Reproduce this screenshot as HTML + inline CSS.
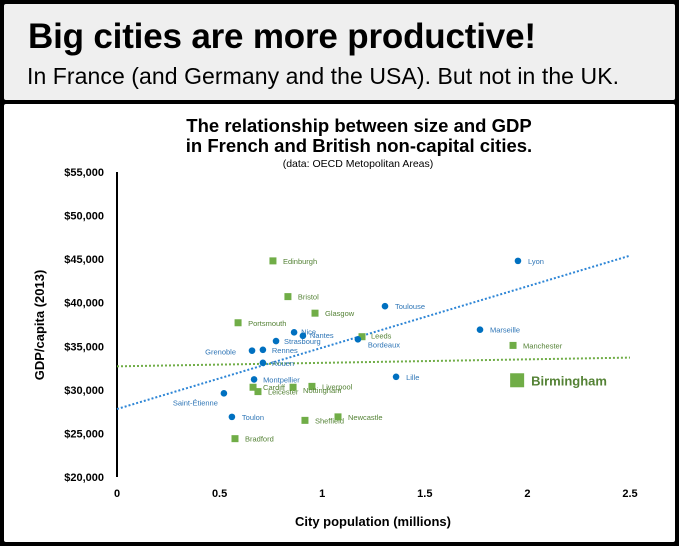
<!DOCTYPE html>
<html><head><meta charset="utf-8"><style>
html,body{margin:0;padding:0;background:#fff;}
body{width:679px;height:546px;overflow:hidden;font-family:"Liberation Sans",Arial,sans-serif;}
</style></head><body>
<svg id="chart" width="679" height="546" viewBox="0 0 679 546" xmlns="http://www.w3.org/2000/svg" font-family="Liberation Sans, Arial, sans-serif">
<rect x="0" y="0" width="679" height="546" fill="#000"/>
<rect x="4" y="4" width="671" height="96" rx="2" fill="#efefef"/>
<rect x="4" y="104" width="671" height="438" rx="2" fill="#fff"/>
<text x="28" y="48" font-size="35" font-weight="bold" fill="#000" textLength="508">Big cities are more productive!</text>
<text x="27" y="84" font-size="23" fill="#000" textLength="592">In France (and Germany and the USA). But not in the UK.</text>
<text x="359" y="132" font-size="18.5" font-weight="bold" text-anchor="middle">The relationship between size and GDP</text>
<text x="359" y="152" font-size="18.5" font-weight="bold" text-anchor="middle">in French and British non-capital cities.</text>
<text x="358" y="167" font-size="10.5" text-anchor="middle">(data: OECD Metopolitan Areas)</text>
<text x="0" y="0" transform="translate(44,325) rotate(-90)" font-size="13" font-weight="bold" text-anchor="middle">GDP/capita (2013)</text>
<text x="373" y="526" font-size="13" font-weight="bold" text-anchor="middle">City population (millions)</text>
<g id="plot"></g>
</svg>
<script>
const yTicks = [20000,25000,30000,35000,40000,45000,50000,55000];
const yTickLabels = ["$20,000","$25,000","$30,000","$35,000","$40,000","$45,000","$50,000","$55,000"];
const xTicks = [0,0.5,1,1.5,2,2.5];
const xTickLabels = ["0","0.5","1","1.5","2","2.5"];

const frCities = ["Lyon","Toulouse","Marseille","Bordeaux","Lille","Nice","Nantes","Strasbourg","Grenoble","Rennes","Rouen","Montpellier","Saint-Étienne","Toulon"];
const frPop = [1.954,1.306,1.769,1.174,1.36,0.863,0.906,0.775,0.658,0.711,0.711,0.668,0.521,0.56];
const frGdp = [44800,39600,36900,35800,31500,36600,36200,35600,34500,34600,33100,31200,29600,26900];

const ukCities = ["Edinburgh","Bristol","Glasgow","Portsmouth","Leeds","Manchester","Birmingham","Liverpool","Cardiff","Nottingham","Leicester","Sheffield","Newcastle","Bradford"];
const ukPop = [0.76,0.833,0.965,0.59,1.194,1.93,1.95,0.95,0.663,0.858,0.687,0.916,1.077,0.575];
const ukGdp = [44800,40700,38800,37700,36100,35100,31100,30400,30300,30300,29800,26500,26900,24400];

const frTrend = [27800,45400]; // GDP at x=0 and x=2.5
const ukTrend = [32700,33700];

// label offsets (layout, not data): [dx, dy, anchor]
const frLabelOff = [[10,3,"start"],[10,3,"start"],[10,3,"start"],[10,8,"start"],[10,3,"start"],[7,2,"start"],[7,2,"start"],[8,3,"start"],[-16,4,"end"],[9,3,"start"],[9,3,"start"],[9,3,"start"],[-6,12,"end"],[10,3,"start"]];
const ukLabelOff = [[10,3,"start"],[10,3,"start"],[10,3,"start"],[10,3,"start"],[9,2,"start"],[10,3,"start"],[14,5,"start"],[10,3,"start"],[10,3,"start"],[10,6,"start"],[10,3,"start"],[10,3,"start"],[10,3,"start"],[10,3,"start"]];

const X0=117, X1=630, Y0=477, Y1=172;
const xS = v => X0 + (v-0)/(2.5-0)*(X1-X0);
const yS = v => Y0 - (v-20000)/(55000-20000)*(Y0-Y1);
const NS="http://www.w3.org/2000/svg";
const plot=document.getElementById('plot');
function mk(tag,attrs){const e=document.createElementNS(NS,tag);for(const k in attrs)e.setAttribute(k,attrs[k]);plot.appendChild(e);return e;}

yTicks.forEach((t,i)=>{
  const e=mk('text',{x:104,y:yS(t)+4,'font-size':11,'font-weight':'bold','text-anchor':'end'});
  e.textContent=yTickLabels[i];
  
  
});
xTicks.forEach((t,i)=>{
  const e=mk('text',{x:xS(t),y:497,'font-size':11,'font-weight':'bold','text-anchor':'middle'});
  e.textContent=xTickLabels[i];
  
  
});
const ax=mk('line',{x1:X0,y1:Y1,x2:X0,y2:Y0,stroke:'#000','stroke-width':2});



const tf=mk('line',{x1:xS(0),y1:yS(frTrend[0]),x2:xS(2.5),y2:yS(frTrend[1]),stroke:'#2e86d6','stroke-width':2,'stroke-dasharray':'2 2'});


const tu=mk('line',{x1:xS(0),y1:yS(ukTrend[0]),x2:xS(2.5),y2:yS(ukTrend[1]),stroke:'#70ad47','stroke-width':2,'stroke-dasharray':'2 2'});



ukCities.forEach((c,i)=>{
  const big = c==="Birmingham";
  const s = big?14:7;
  const r=mk('rect',{x:xS(ukPop[i])-s/2,y:yS(ukGdp[i])-s/2,width:s,height:s,fill:'#70ad47'});
  
  
  const o=ukLabelOff[i];
  const t=mk('text',{x:xS(ukPop[i])+o[0],y:yS(ukGdp[i])+o[1],'font-size':big?13:7.5,'font-weight':big?'bold':'normal',fill:'#548235','text-anchor':o[2]});
  t.textContent=c;
  
  
});
frCities.forEach((c,i)=>{
  const p=mk('circle',{cx:xS(frPop[i]),cy:yS(frGdp[i]),r:3.3,fill:'#0070c0'});
  
  
  const o=frLabelOff[i];
  const t=mk('text',{x:xS(frPop[i])+o[0],y:yS(frGdp[i])+o[1],'font-size':7.5,fill:'#2e75b6','text-anchor':o[2]});
  t.textContent=c;
  
  
});
</script>
</body></html>
